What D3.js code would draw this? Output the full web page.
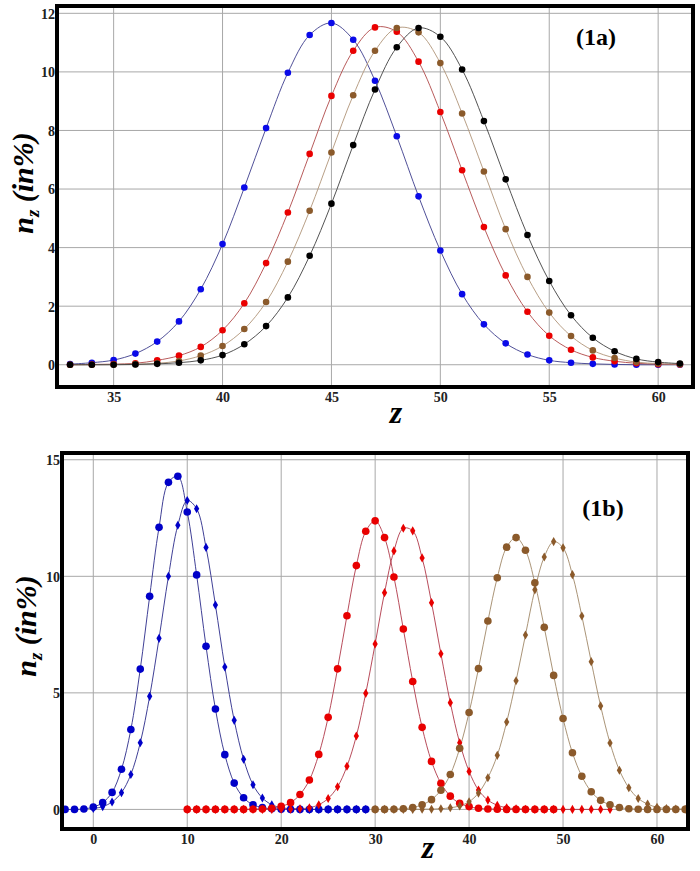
<!DOCTYPE html>
<html><head><meta charset="utf-8">
<script src="https://cdn.jsdelivr.net/npm/d3@7"></script>
<style>
body{margin:0;background:#fff;}
text{font-family:"Liberation Serif","Times New Roman",serif;font-weight:bold;}
</style>
</head><body>
<svg id="chart" width="700" height="871"></svg>
<script>
// ---------- Panel (1a) data ----------
const zTop = [33,34,35,36,37,38,39,40,41,42,43,44,45,46,47,48,49,50,51,52,53,54,55,56,57,58,59,60,61];
const topBlue  = [0.02,0.07,0.16,0.38,0.79,1.48,2.58,4.12,6.05,8.08,9.97,11.26,11.67,11.1,9.7,7.8,5.75,3.9,2.41,1.38,0.73,0.35,0.15,0.07,0.03,0.01,0,0,0];
const topRed   = [0,0.01,0.02,0.05,0.15,0.31,0.61,1.18,2.1,3.47,5.2,7.2,9.18,10.72,11.52,11.37,10.35,8.63,6.64,4.7,3.05,1.81,0.99,0.51,0.25,0.12,0.05,0.02,0.01];
const topBrown = [0,0,0.01,0.02,0.05,0.13,0.31,0.64,1.22,2.14,3.52,5.26,7.25,9.2,10.72,11.5,11.35,10.3,8.58,6.6,4.63,3.0,1.78,0.98,0.49,0.23,0.09,0.04,0.02];
const topBlack = [0,0,0,0.01,0.03,0.07,0.15,0.33,0.7,1.32,2.3,3.72,5.5,7.5,9.4,10.84,11.5,11.2,10.08,8.32,6.33,4.43,2.86,1.69,0.92,0.46,0.2,0.09,0.04];
const topXTicks = [35,40,45,50,55,60];
const topYTicks = [0,2,4,6,8,10,12];

// ---------- Panel (1b) data ----------
const zBlueC = [-3,-2,-1,0,1,2,3,4,5,6,7,8,9,10,11,12,13,14,15,16,17,18,19,20,21,22,23,24,25,26,27,28,29];
const blueCircles = [0,0,0.02,0.1,0.29,0.73,1.72,3.43,6.02,9.14,12.1,14.03,14.29,12.76,10.06,7.0,4.31,2.35,1.13,0.5,0.2,0.08,0.03,0.01,0,0,0,0,0,0,0,0,0];
const zBlueD = [0,1,2,3,4,5,6,7,8,9,10,11,12,13,14,15,16,17,18,19,20,21,22,23,24,25,26,27,28,29];
const blueDiamonds = [0.04,0.12,0.32,0.72,1.5,2.86,4.85,7.34,10.0,12.19,13.25,12.9,11.24,8.77,6.11,3.82,2.15,1.06,0.49,0.2,0.08,0.03,0.01,0,0,0,0,0,0,0];
const zRedC = [10,11,12,13,14,15,16,17,18,19,20,21,22,23,24,25,26,27,28,29,30,31,32,33,34,35,36,37,38,39,40,41,42,43,44,45,46,47,48,49];
const redCircles = [0,0,0,0,0,0,0,0.01,0.02,0.05,0.13,0.29,0.64,1.26,2.36,3.95,6.03,8.31,10.46,11.93,12.38,11.66,9.97,7.74,5.49,3.52,2.06,1.12,0.57,0.26,0.12,0.05,0.02,0.01,0,0,0,0,0,0];
const zRedD = [10,11,12,13,14,15,16,17,18,19,20,21,22,23,24,25,26,27,28,29,30,31,32,33,34,35,36,37,38,39,40,41,42,43,44,45,46,47,48,49,50,51,52,53,54,55];
const redDiamonds = [0,0,0,0,0,0,0,0,0,0,0.01,0.01,0.03,0.07,0.2,0.47,0.97,1.85,3.15,4.98,7.1,9.3,11.09,12.06,11.95,10.79,8.87,6.68,4.58,2.86,1.63,0.83,0.4,0.18,0.07,0.03,0.01,0,0,0,0,0,0,0,0,0];
const zBrown = [30,31,32,33,34,35,36,37,38,39,40,41,42,43,44,45,46,47,48,49,50,51,52,53,54,55,56,57,58,59,60,61,62,63];
const brownCircles = [0,0,0.01,0.03,0.08,0.2,0.42,0.82,1.5,2.62,4.16,6.04,8.08,9.94,11.25,11.66,11.12,9.72,7.81,5.75,3.9,2.43,1.42,0.76,0.39,0.2,0.08,0.03,0.01,0,0,0,0,0];
const brownDiamonds = [0,0,0,0,0,0.01,0.01,0.03,0.07,0.15,0.33,0.7,1.36,2.32,3.75,5.52,7.48,9.42,10.83,11.49,11.22,10.07,8.3,6.34,4.44,2.85,1.68,0.93,0.47,0.23,0.09,0.04,0.02,0.01];
const botXTicks = [0,10,20,30,40,50,60];
const botYTicks = [0,5,10,15];

const svg = d3.select("#chart");

function panel(o){
  const g = svg.append("g");
  const x = d3.scaleLinear().domain(o.xDomain).range([o.left, o.right]);
  const y = d3.scaleLinear().domain(o.yDomain).range([o.bottom, o.top]);
  const clipId = "clip" + o.id;
  svg.append("defs").append("clipPath").attr("id", clipId)
    .append("rect").attr("x", o.left).attr("y", o.top)
    .attr("width", o.right - o.left).attr("height", o.bottom - o.top);

  // grid
  g.append("g").selectAll("line").data(o.xTicks).join("line")
    .attr("x1", d => x(d)).attr("x2", d => x(d))
    .attr("y1", o.top).attr("y2", o.bottom)
    .attr("stroke", "#a8a8a8").attr("stroke-width", 1);
  g.append("g").selectAll("line").data(o.yTicks).join("line")
    .attr("y1", d => y(d)).attr("y2", d => y(d))
    .attr("x1", o.left).attr("x2", o.right)
    .attr("stroke", "#a8a8a8").attr("stroke-width", 1);

  // axes (labels only)
  const xAxis = d3.axisBottom(x).tickValues(o.xTicks).tickSize(0).tickPadding(0);
  const xa = g.append("g").attr("transform", `translate(0,${o.xLabelY})`).call(xAxis);
  xa.select(".domain").remove();
  xa.selectAll("text").attr("font-size", 14).attr("font-family", "Liberation Serif").attr("font-weight", "bold").attr("fill", "#222").attr("dy", 0);
  const yAxis = d3.axisLeft(y).tickValues(o.yTicks).tickSize(0).tickPadding(0);
  const ya = g.append("g").attr("transform", `translate(${o.yLabelX},0)`).call(yAxis);
  ya.select(".domain").remove();
  ya.selectAll("text").attr("font-size", 14).attr("font-family", "Liberation Serif").attr("font-weight", "bold").attr("fill", "#222").attr("dy", "0.35em");

  const plot = g.append("g").attr("clip-path", `url(#${clipId})`);
  const line = d3.line().x(d => x(d[0])).y(d => y(d[1])).curve(d3.curveCatmullRom.alpha(0.5));
  o.series.forEach(s => {
    const pts = s.z.map((z, i) => [z, s.v[i]]);
    plot.append("path").datum(pts).attr("d", line)
      .attr("fill", "none").attr("stroke", s.line).attr("stroke-width", 0.9);
  });
  o.series.forEach(s => {
    const pts = s.z.map((z, i) => [z, s.v[i]]);
    if (s.shape === "circle") {
      plot.append("g").selectAll("circle").data(pts).join("circle")
        .attr("cx", d => x(d[0])).attr("cy", d => y(d[1]))
        .attr("r", s.r).attr("fill", s.color);
    } else {
      const sym = d3.symbol(d3.symbolDiamond, s.size);
      plot.append("g").selectAll("path").data(pts).join("path")
        .attr("transform", d => `translate(${x(d[0])},${y(d[1])})`)
        .attr("d", sym).attr("fill", s.color);
    }
  });

  // frame
  g.append("rect").attr("x", o.left).attr("y", o.top)
    .attr("width", o.right - o.left).attr("height", o.bottom - o.top)
    .attr("fill", "none").attr("stroke", "#000").attr("stroke-width", 4);

  // titles
  const yt = g.append("text")
    .attr("transform", `translate(${o.yTitle[0]},${o.yTitle[1]}) rotate(-90)`)
    .attr("text-anchor", "middle").attr("font-size", 30).attr("font-style", "italic").attr("font-weight", "bold");
  yt.append("tspan").text("n");
  yt.append("tspan").attr("font-size", 19).attr("dy", 6).text("z");
  yt.append("tspan").attr("dy", -6).text(" (in%)");
  g.append("text").attr("x", o.xTitle[0]).attr("y", o.xTitle[1])
    .attr("text-anchor", "middle").attr("font-size", 32).attr("font-style", "italic").text("z");
  g.append("text").attr("x", o.tag[0]).attr("y", o.tag[1])
    .attr("text-anchor", "middle").attr("font-size", 24).text(o.tagText);
}

panel({
  id: "a", left: 57, right: 693, top: 6, bottom: 387,
  xDomain: [32.4, 61.6], yDomain: [-0.76, 12.25],
  xTicks: topXTicks, yTicks: topYTicks,
  xLabelY: 402, yLabelX: 55,
  yTitle: [33, 183], xTitle: [396, 423], tag: [596, 45], tagText: "(1a)",
  series: [
    {z: zTop, v: topBlue,  color: "#0a0ae8", line: "#3c3c8c", shape: "circle", r: 3.3},
    {z: zTop, v: topRed,   color: "#ea0000", line: "#b04848", shape: "circle", r: 3.3},
    {z: zTop, v: topBrown, color: "#8b5a2b", line: "#b09478", shape: "circle", r: 3.3},
    {z: zTop, v: topBlack, color: "#000000", line: "#404040", shape: "circle", r: 3.3}
  ]
});

panel({
  id: "b", left: 62, right: 688, top: 453, bottom: 829,
  xDomain: [-3.33, 63.3], yDomain: [-0.84, 15.29],
  xTicks: botXTicks, yTicks: botYTicks,
  xLabelY: 844, yLabelX: 60,
  yTitle: [36, 626], xTitle: [428, 858], tag: [603, 516], tagText: "(1b)",
  series: [
    {z: zBlueC, v: blueCircles,  color: "#0000c8", line: "#2a2a8a", shape: "circle", r: 3.8},
    {z: zBlueD, v: blueDiamonds, color: "#0000c8", line: "#2a2a8a", shape: "diamond", size: 24},
    {z: zRedC,  v: redCircles,   color: "#e80000", line: "#b03848", shape: "circle", r: 3.8},
    {z: zRedD,  v: redDiamonds,  color: "#e80000", line: "#b03848", shape: "diamond", size: 24},
    {z: zBrown, v: brownCircles, color: "#8b5a2b", line: "#a08868", shape: "circle", r: 3.8},
    {z: zBrown, v: brownDiamonds,color: "#8b5a2b", line: "#a08868", shape: "diamond", size: 24}
  ]
});
</script>
</body></html>
